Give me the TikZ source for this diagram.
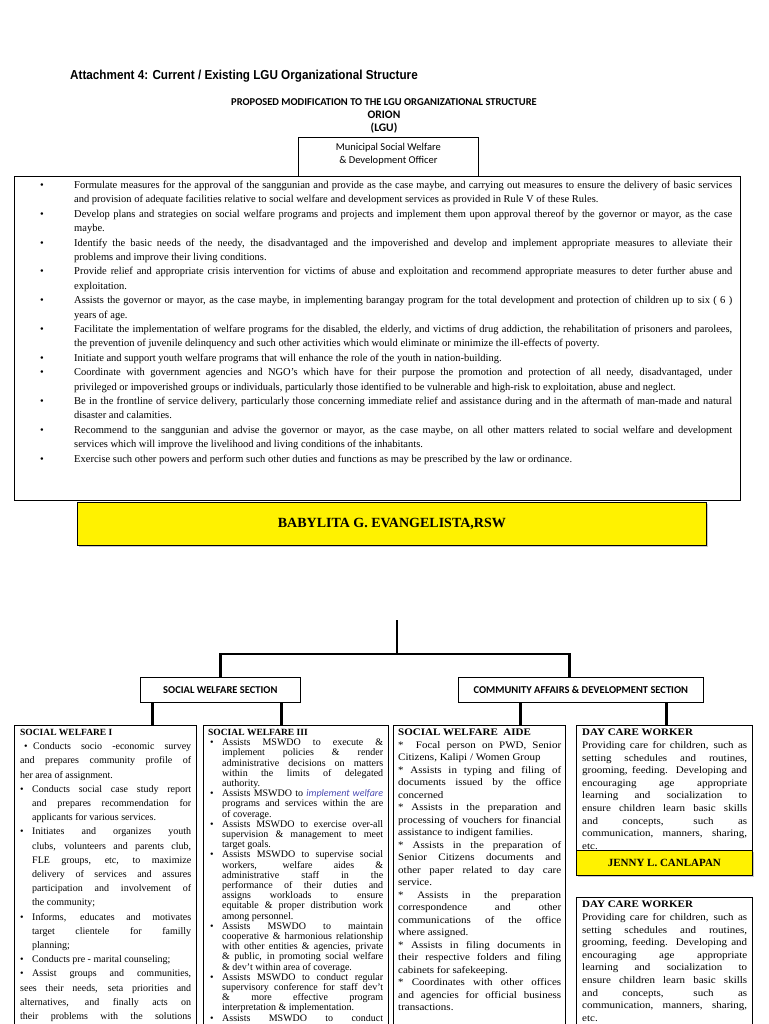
\documentclass[tikz,border=0pt]{standalone}
\usepackage{fontspec}
\setmainfont{Liberation Serif}
\newfontfamily\narrowsans[FakeStretch=0.9]{Liberation Sans}
\newfontfamily\calibri{Carlito}
\newfontfamily\cambria[FakeStretch=1.1]{Liberation Serif}
\usetikzlibrary{positioning, shadows}

\newcommand{\dutyfont}{\fontsize{10.5}{14.4}\selectfont}
\newcommand{\duty}[1]{\par\hangindent=34pt\hangafter=1\noindent\makebox[34pt][l]{\textbullet}#1}
\newcommand{\oneitem}[1]{\par\hangindent=12pt\hangafter=1\noindent\makebox[12pt][l]{\textbullet}#1}
\newcommand{\threeitem}[1]{\par\hangindent=14pt\hangafter=1\noindent\makebox[14pt][l]{\hspace{2pt}\textbullet}#1}
\newcommand{\dcwtext}{\textbf{DAY CARE WORKER}\\
  Providing care for children, such as\linebreak setting schedules and routines,\linebreak
  grooming, feeding. Developing and\linebreak encouraging age appropriate\linebreak
  learning and socialization to\linebreak ensure children learn basic skills\linebreak
  and concepts, such as\linebreak communication, manners, sharing,\linebreak etc.}

\tikzset{
  box/.style={draw, line width=0.7pt, inner sep=0pt, anchor=north west},
  namebar/.style={box, fill=yellow, drop shadow={shadow xshift=1.5pt, shadow yshift=-1.5pt, fill=gray!70, opacity=0.6}},
  conn/.style={line width=2.6pt},
  textblock/.style={anchor=north west, inner sep=0pt, align=justify, text width=#1},
}

\begin{document}
\begin{tikzpicture}[x=1pt, y=-1pt]
  \clip (0,0) rectangle (768,1024);
  \fill[white] (0,0) rectangle (768,1024);

  % headings
  \node[anchor=base west, inner sep=0pt, font=\narrowsans\bfseries\fontsize{13}{15}\selectfont] (attach) at (70,80)
    {Attachment 4: Current / Existing LGU Organizational Structure};
  \node[anchor=base, inner sep=0pt, font=\calibri\bfseries\fontsize{10.5}{12}\selectfont] (proposed) at (384,106)
    {PROPOSED MODIFICATION TO THE LGU ORGANIZATIONAL STRUCTURE};
  \node[anchor=base, inner sep=0pt, font=\calibri\bfseries\fontsize{11.5}{13}\selectfont] (orion) at (384,119) {ORION};
  \node[anchor=base, inner sep=0pt, font=\calibri\bfseries\fontsize{11.5}{13}\selectfont] (lgu) at (384,132) {(LGU)};

  % head of office
  \node[box, minimum width=180pt, minimum height=39pt] (mswdo) at (298,137) {};
  \node[anchor=north, inner sep=0pt, align=center, font=\calibri\fontsize{10.5}{13}\selectfont] (mswdotext)
    at ([yshift=-6pt]mswdo.north) {Municipal Social Welfare\\\& Development Officer};

  \node[box, minimum width=726pt, minimum height=324pt] (duties) at (14,176) {};
  \node[textblock=692pt, font=\dutyfont] (dutytext) at ([xshift=26pt,yshift=2pt]duties.north west) {%
    \duty{Formulate measures for the approval of the sanggunian and provide as the case maybe, and carrying out measures to ensure the delivery of basic services\linebreak and provision of adequate facilities relative to social welfare and development services as provided in Rule V of these Rules.}
    \duty{Develop plans and strategies on social welfare programs and projects and implement them upon approval thereof by the governor or mayor, as the case\linebreak maybe.}
    \duty{Identify the basic needs of the needy, the disadvantaged and the impoverished and develop and implement appropriate measures to alleviate their\linebreak problems and improve their living conditions.}
    \duty{Provide relief and appropriate crisis intervention for victims of abuse and exploitation and recommend appropriate measures to deter further abuse and\linebreak exploitation.}
    \duty{Assists the governor or mayor, as the case maybe, in implementing barangay program for the total development and protection of children up to six ( 6 )\linebreak years of age.}
    \duty{Facilitate the implementation of welfare programs for the disabled, the elderly, and victims of drug addiction, the rehabilitation of prisoners and parolees,\linebreak the prevention of juvenile delinquency and such other activities which would eliminate or minimize the ill-effects of poverty.}
    \duty{Initiate and support youth welfare programs that will enhance the role of the youth in nation-building.}
    \duty{Coordinate with government agencies and NGO's which have for their purpose the promotion and protection of all needy, disadvantaged, under\linebreak privileged or impoverished groups or individuals, particularly those identified to be vulnerable and high-risk to exploitation, abuse and neglect.}
    \duty{Be in the frontline of service delivery, particularly those concerning immediate relief and assistance during and in the aftermath of man-made and natural\linebreak disaster and calamities.}
    \duty{Recommend to the sanggunian and advise the governor or mayor, as the case maybe, on all other matters related to social welfare and development\linebreak services which will improve the livelihood and living conditions of the inhabitants.}
    \duty{Exercise such other powers and perform such other duties and functions as may be prescribed by the law or ordinance.}};

  \node[namebar, minimum width=629pt, minimum height=43pt, font=\bfseries\fontsize{14}{16}\selectfont] (head) at (77,502)
    {BABYLITA G. EVANGELISTA,RSW};

  % sections
  \node[box, minimum width=160pt, minimum height=25pt, font=\calibri\bfseries\fontsize{10.5}{12}\selectfont] (sws) at (140,677)
    {SOCIAL WELFARE SECTION};
  \node[box, minimum width=245pt, minimum height=25pt, font=\calibri\bfseries\fontsize{10.5}{12}\selectfont] (cas) at (458,677)
    {COMMUNITY AFFAIRS \& DEVELOPMENT SECTION};

  \coordinate (trunk) at (397,620);
  \coordinate (split) at (397,654);
  \draw[conn] (trunk) -- (split);
  \draw[conn] (sws.north) |- (split) -| ([xshift=-11.5pt]cas.north);

  % staff
  \node[box, minimum width=182pt, minimum height=340pt] (swone) at (14,725) {};
  \node[box, minimum width=185pt, minimum height=340pt] (swthree) at (203,725) {};
  \node[box, minimum width=172pt, minimum height=340pt] (aide) at (393,725) {};
  \node[box, minimum width=176pt, minimum height=125pt] (dcwone) at (576,725) {};
  \node[namebar, minimum width=176pt, minimum height=25pt, font=\bfseries\fontsize{11}{13}\selectfont] (jenny)
    at (576,850) {JENNY L. CANLAPAN};
  \node[box, minimum width=176pt, minimum height=200pt] (dcwtwo) at (576,897) {};

  \draw[conn] ([xshift=-68pt]sws.south) -- ([xshift=-68pt]sws.south |- swone.north);
  \draw[conn] ([xshift=61pt]sws.south) -- ([xshift=61pt]sws.south |- swthree.north);
  \draw[conn] ([xshift=-60.5pt]cas.south) -- ([xshift=-60.5pt]cas.south |- aide.north);
  \draw[conn] ([xshift=85.5pt]cas.south) -- ([xshift=85.5pt]cas.south |- dcwone.north);

  \node[textblock=171pt, font=\fontsize{10}{14.2}\selectfont] (swonetext) at ([xshift=6pt,yshift=-4pt]swone.north west) {%
    {\fontsize{9.5}{10}\selectfont\textbf{SOCIAL WELFARE I}}\par
    \noindent\makebox[13pt][l]{\hspace{4pt}\textbullet}Conducts socio -economic survey\linebreak and prepares community profile of\linebreak her area of assignment.
    \oneitem{Conducts social case study report\linebreak and prepares recommendation for\linebreak applicants for various services.}
    \oneitem{Initiates and organizes youth\linebreak clubs, volunteers and parents club,\linebreak FLE groups, etc, to maximize\linebreak delivery of services and assures\linebreak participation and involvement of\linebreak the community;}
    \oneitem{Informs, educates and motivates\linebreak target clientele for familly\linebreak planning;}
    \oneitem{Conducts pre - marital counseling;}
    \oneitem{Assist groups and communities,\linebreak sees their needs, seta priorities and\linebreak alternatives, and finally acts on\linebreak their problems with the solutions\linebreak}};

  \node[textblock=175pt, font=\fontsize{10}{10.2}\selectfont] (swthreetext) at ([xshift=5pt,yshift=-4pt]swthree.north west) {%
    {\fontsize{9.5}{10}\selectfont\textbf{SOCIAL WELFARE III}}
    \threeitem{Assists MSWDO to execute \&\linebreak implement policies \& render\linebreak administrative decisions on matters\linebreak within the limits of delegated\linebreak authority.}
    \threeitem{Assists MSWDO to {\calibri\itshape\color{gray!60!blue}implement welfare}\linebreak programs and services within the are\linebreak of coverage.}
    \threeitem{Assists MSWDO to exercise over-all\linebreak supervision \& management to meet\linebreak target goals.}
    \threeitem{Assists MSWDO to supervise social\linebreak workers, welfare aides \&\linebreak administrative staff in the\linebreak performance of their duties and\linebreak assigns workloads to ensure\linebreak equitable \& proper distribution work\linebreak among personnel.}
    \threeitem{Assists MSWDO to maintain\linebreak cooperative \& harmonious relationship\linebreak with other entities \& agencies, private\linebreak \& public, in promoting social welfare\linebreak \& dev't within area of coverage.}
    \threeitem{Assists MSWDO to conduct regular\linebreak supervisory conference for staff dev't\linebreak \& more effective program\linebreak interpretation \& implementation.}
    \threeitem{Assists MSWDO to conduct\linebreak}};

  \node[textblock=163pt, font=\cambria\fontsize{10}{12.5}\selectfont] (aidetext) at ([xshift=5pt,yshift=-4pt]aide.north west) {%
    \textbf{SOCIAL WELFARE\ \ AIDE}\par
    *\ \ Focal person on PWD, Senior\linebreak Citizens, Kalipi / Women Group\par
    * Assists in typing and filing of\linebreak documents issued by the office\linebreak concerned\par
    * Assists in the preparation and\linebreak processing of vouchers for financial\linebreak assistance to indigent families.\par
    * Assists in the preparation of\linebreak Senior Citizens documents and\linebreak other paper related to day care\linebreak service.\par
    * Assists in the preparation\linebreak correspondence and other\linebreak communications of the office\linebreak where assigned.\par
    * Assists in filing documents in\linebreak their respective folders and filing\linebreak cabinets for safekeeping.\par
    * Coordinates with other offices\linebreak and agencies for official business\linebreak transactions.};

  \node[textblock=165pt, font=\cambria\fontsize{10}{12.6}\selectfont] (dcwonetext) at ([xshift=6pt,yshift=-4pt]dcwone.north west) {\dcwtext};
  \node[textblock=165pt, font=\cambria\fontsize{10}{12.6}\selectfont] (dcwtwotext) at ([xshift=6pt,yshift=-4pt]dcwtwo.north west) {\dcwtext};
\end{tikzpicture}
\end{document}
